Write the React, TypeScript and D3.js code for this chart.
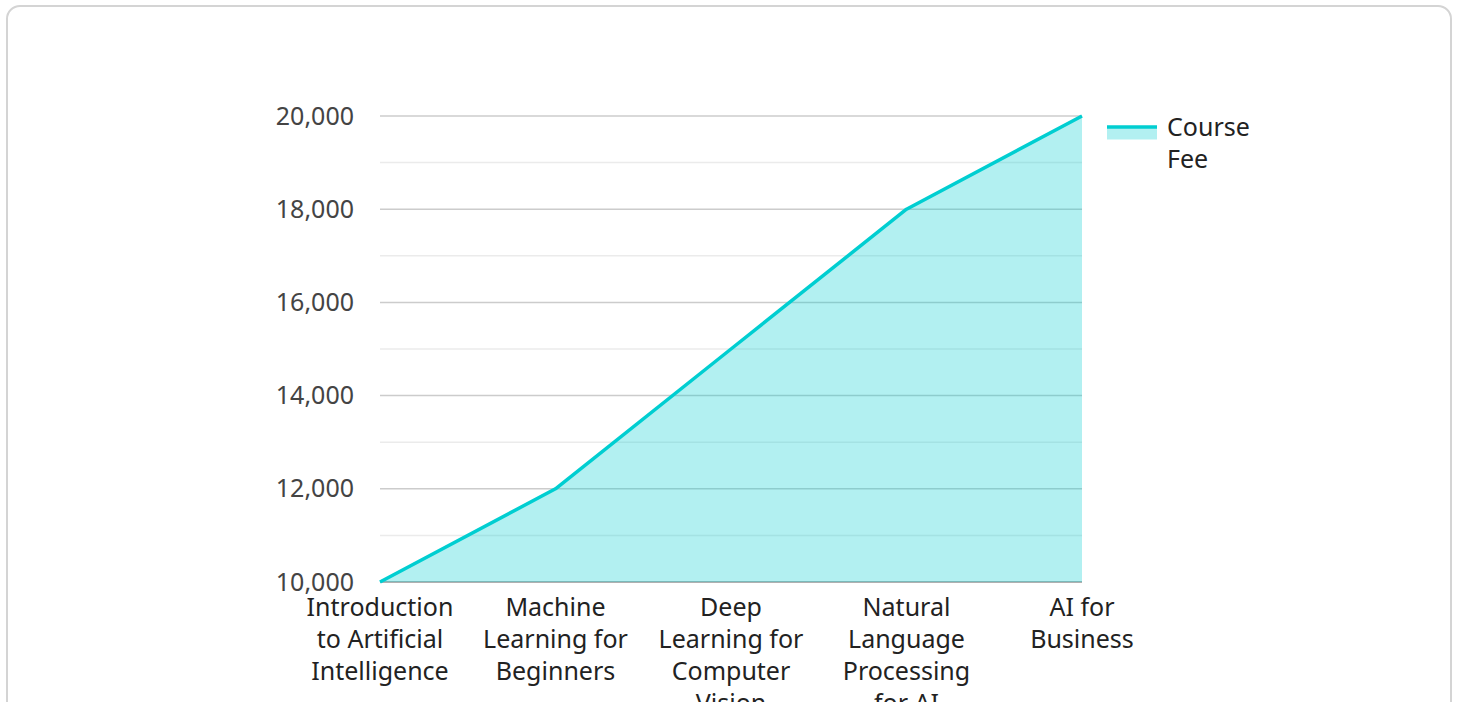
import React, { useMemo } from "react";
import * as d3 from "d3";

const categories = [
  "Introduction to Artificial Intelligence",
  "Machine Learning for Beginners",
  "Deep Learning for Computer Vision",
  "Natural Language Processing for AI",
  "AI for Business",
];
const courseFee = [10000, 12000, 15000, 18000, 20000];
const seriesName = "Course Fee";
const yTicks = [10000, 12000, 14000, 16000, 18000, 20000];
const yMinorTicks = [11000, 13000, 15000, 17000, 19000];

const W = 1458;
const H = 702;
const FONT = "'Noto Sans', sans-serif";
const FS = 25;

let ctx: CanvasRenderingContext2D | null = null;
function measure(t: string) {
  if (!ctx) ctx = document.createElement("canvas").getContext("2d");
  if (!ctx) return t.length * FS * 0.55;
  ctx.font = `${FS}px 'Noto Sans'`;
  return ctx.measureText(t).width;
}
function wrap(label: string, maxW: number): string[] {
  const words = label.split(" ");
  const lines: string[] = [];
  let cur = "";
  for (const w of words) {
    const t = cur ? cur + " " + w : w;
    if (cur && measure(t) > maxW) {
      lines.push(cur);
      cur = w;
    } else cur = t;
  }
  if (cur) lines.push(cur);
  return lines;
}

export default function App() {
  const x = d3.scalePoint<string>().domain(categories).range([380, 1082]);
  const y = d3.scaleLinear().domain([10000, 20000]).range([582, 116]);
  const data = categories.map((c, i) => ({ c, v: courseFee[i] }));
  const area = d3
    .area<{ c: string; v: number }>()
    .x((d) => x(d.c)!)
    .y0(y(10000))
    .y1((d) => y(d.v));
  const line = d3
    .line<{ c: string; v: number }>()
    .x((d) => x(d.c)!)
    .y((d) => y(d.v));
  const fmt = d3.format(",");
  const wrapped = useMemo(() => categories.map((c) => wrap(c, 157)), []);
  const color = "#00CED1";

  return (
    <div style={{ position: "absolute", left: 0, top: 0 }}>
      <svg width={W} height={H} style={{ display: "block", fontFamily: FONT }}>
        <rect x={0} y={0} width={W} height={H} fill="#fff" />
        <rect
          x={7}
          y={6}
          width={1444}
          height={820}
          rx={13}
          fill="#fff"
          stroke="#d4d4d4"
          strokeWidth={2}
        />
        {yMinorTicks.map((t) => (
          <line key={"m" + t} x1={380} x2={1082} y1={y(t)} y2={y(t)} stroke="#ebebeb" strokeWidth={1.5} />
        ))}
        {yTicks.map((t) => (
          <line key={"g" + t} x1={380} x2={1082} y1={y(t)} y2={y(t)} stroke={t === 10000 ? "#b0b0b0" : "#cccccc"} strokeWidth={t === 10000 ? 2 : 1.5} />
        ))}
        <path d={area(data)!} fill={color} fillOpacity={0.3} />
        <path d={line(data)!} fill="none" stroke={color} strokeWidth={3.5} strokeLinejoin="round" />
        {yTicks.map((t) => (
          <text key={"t" + t} x={354} y={y(t) + 8.5} textAnchor="end" fontSize={FS} fill="#444">
            {fmt(t)}
          </text>
        ))}
        {categories.map((c, i) => (
          <text key={c} textAnchor="middle" fontSize={FS} fill="#222">
            {wrapped[i].map((l, j) => (
              <tspan key={j} x={x(c)} y={616 + j * 32}>
                {l}
              </tspan>
            ))}
          </text>
        ))}
        <rect x={1107} y={128} width={50} height={11.5} fill={color} fillOpacity={0.3} />
        <line x1={1107} x2={1157} y1={127} y2={127} stroke={color} strokeWidth={3.5} />
        <text fontSize={FS} fill="#222">
          {seriesName.split(" ").map((w, j) => (
            <tspan key={j} x={1167} y={136 + j * 32}>
              {w}
            </tspan>
          ))}
        </text>
      </svg>
    </div>
  );
}
